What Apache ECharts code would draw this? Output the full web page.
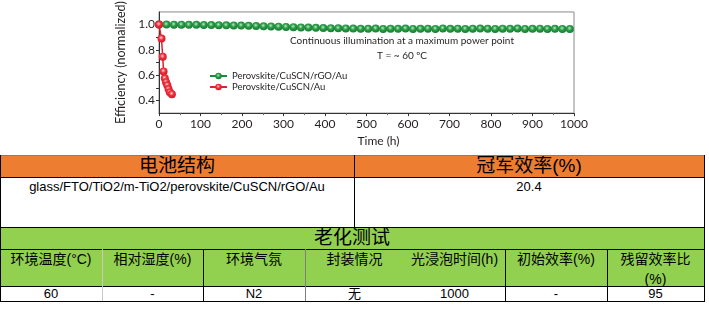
<!DOCTYPE html>
<html>
<head>
<meta charset="utf-8">
<script src="https://cdn.jsdelivr.net/npm/echarts@6/dist/echarts.min.js"></script>
<style>
  html, body { margin: 0; padding: 0; background: #fff; }
  #wrap { position: relative; width: 709px; height: 311px; overflow: hidden; }
  #main { position: absolute; left: 0; top: 0; width: 709px; height: 152px; }
  .cell { position: absolute; text-align: center; color: #000;
          font-family: "Liberation Sans", "Noto Sans CJK SC", Arial, sans-serif; white-space: pre-line; }
  .ln { position: absolute; }
</style>
</head>
<body>
<div id="wrap">
  <div id="main"></div>
</div>
<script>
// stability curve, rGO device
var greenTime = [0,18,36,54,72,90,108,126,144,162,180,198,216,234,252,270,288,306,324,342,
                 360,378,396,414,432,450,468,486,504,522,540,558,576,594,612,630,648,666,684,702,
                 720,738,756,774,792,810,828,846,864,882,900,918,936,954,972,990];
var greenEff = [1.000,1.000,0.999,0.999,0.998,0.998,0.997,0.996,0.995,0.994,
                0.993,0.992,0.991,0.989,0.987,0.986,0.984,0.982,0.980,0.978,
                0.977,0.975,0.973,0.972,0.971,0.970,0.969,0.968,0.967,0.969,
                0.966,0.968,0.967,0.969,0.966,0.967,0.968,0.966,0.970,0.967,
                0.968,0.966,0.968,0.969,0.967,0.966,0.968,0.967,0.969,0.966,
                0.967,0.968,0.966,0.967,0.966,0.965];
// device without rGO
var redTime = [0,6,9,11,14,17,20,23,26,31];
var redEff = [1.0,0.89,0.745,0.63,0.575,0.545,0.52,0.49,0.465,0.45];

var seriesNames = ['Perovskite/CuSCN/rGO/Au', 'Perovskite/CuSCN/Au'];
var yLabels = [0.4, 0.6, 0.8, 1.0];

// table text
var topHeaders = ['电池结构', '冠军效率(%)'];
var topValues = ['glass/FTO/TiO2/m-TiO2/perovskite/CuSCN/rGO/Au', '20.4'];
var agingTitle = '老化测试';
var agingHeaders = ['环境温度(°C)', '相对湿度(%)', '环境气氛', '封装情况', '光浸泡时间(h)', '初始效率(%)', '残留效率比\n(%)'];
var agingValues = ['60', '-', 'N2', '无', '1000', '-', '95'];

function pairs(xs, ys){
    var out = [];
    for (var i = 0; i < xs.length; i++) out.push([xs[i], ys[i]]);
    return out;
}

function bead(edge, mid, center){
    return {
        type: 'radial', x: 0.45, y: 0.4, r: 0.6,
        colorStops: [
            {offset: 0, color: center},
            {offset: 0.45, color: mid},
            {offset: 1, color: edge}
        ]
    };
}

var font = 'Lato, "Open Sans", sans-serif';
var myChart = echarts.init(document.getElementById('main'));
var option = {
    animation: false,
    textStyle: {fontFamily: font},
    grid: {left: 159, right: 135, top: 3, bottom: 35, show: true, borderColor: '#8a8a8a', borderWidth: 1},
    legend: {
        left: 204, top: 66, orient: 'vertical', itemGap: 1,
        itemWidth: 17, itemHeight: 8,
        textStyle: {fontFamily: font, fontSize: 9.5, color: '#231f20'},
        data: seriesNames
    },
    xAxis: {
        type: 'value', min: 0, max: 1000, interval: 100,
        name: 'Time (h)', nameLocation: 'middle', nameGap: 14,
        nameTextStyle: {fontFamily: font, fontSize: 12, color: '#231f20', padding: [0, 0, 0, 24]},
        axisLine: {lineStyle: {color: '#333', width: 1}},
        axisTick: {length: 3, lineStyle: {color: '#333'}},
        minorTick: {show: true, splitNumber: 2, length: 2, lineStyle: {color: '#666'}},
        axisLabel: {fontSize: 12, color: '#231f20', margin: 5, formatter: function(v){ return String(v); }},
        splitLine: {show: false}
    },
    yAxis: {
        type: 'value', min: 0.3, max: 1.1, interval: 0.1,
        name: 'Efficiency (normalized)', nameLocation: 'middle', nameGap: 24,
        nameTextStyle: {fontFamily: font, fontSize: 12.5, color: '#231f20'},
        axisLine: {show: true, lineStyle: {color: '#333', width: 1}},
        axisTick: {length: 3, lineStyle: {color: '#333'}},
        axisLabel: {
            fontSize: 12, color: '#231f20', margin: 4, showMinLabel: false, showMaxLabel: false,
            formatter: function(v){
                for (var i = 0; i < yLabels.length; i++) {
                    if (Math.abs(v - yLabels[i]) < 1e-6) return yLabels[i].toFixed(1);
                }
                return '';
            }
        },
        splitLine: {show: false}
    },
    graphic: [
        {type: 'text', left: 290, top: 36,
         style: {text: 'Continuous illumination at a maximum power point', font: '10px ' + font, fill: '#231f20'}},
        {type: 'text', left: 377, top: 51,
         style: {text: 'T = ~ 60 ºC', font: '10px ' + font, fill: '#231f20'}}
    ],
    series: [
        {
            name: seriesNames[0], type: 'line', data: pairs(greenTime, greenEff),
            symbol: 'circle', symbolSize: 8,
            lineStyle: {color: '#1b8a3b', width: 1.5},
            itemStyle: {color: bead('#137a30', '#2e9e4a', '#b9ecc2'), borderWidth: 0}
        },
        {
            name: seriesNames[1], type: 'line', data: pairs(redTime, redEff),
            symbol: 'circle', symbolSize: 8,
            lineStyle: {color: '#e3202b', width: 1.5},
            itemStyle: {color: bead('#d8131f', '#ec3340', '#ffd6d8'), borderWidth: 0}
        }
    ]
};
myChart.setOption(option);

// table below the chart
var wrap = document.getElementById('wrap');
function box(cls, x, y, w, h, css, text){
    var d = document.createElement('div');
    d.className = cls;
    d.style.left = x + 'px'; d.style.top = y + 'px';
    d.style.width = w + 'px'; d.style.height = h + 'px';
    for (var k in css) d.style[k] = css[k];
    if (text !== undefined) d.textContent = text;
    wrap.appendChild(d);
}
var orange = '#ED7D31', lime = '#92D050';
var cols = [0, 102, 203, 305, 404, 505, 607, 704];

// backgrounds + text
box('cell', 0, 155, 354, 22, {background: orange, fontSize: '19px', lineHeight: '22px'}, topHeaders[0]);
box('cell', 354, 155, 350, 22, {background: orange, fontSize: '19px', lineHeight: '22px'}, topHeaders[1]);
box('cell', 0, 178, 354, 49, {fontSize: '13px', lineHeight: '18px'}, topValues[0]);
box('cell', 354, 178, 350, 49, {fontSize: '13px', lineHeight: '18px'}, topValues[1]);
box('cell', 0, 227, 704, 22, {background: lime, fontSize: '19px', lineHeight: '22px'}, agingTitle);
for (var i = 0; i < agingHeaders.length; i++) {
    box('cell', cols[i], 249, cols[i + 1] - cols[i], 37,
        {background: lime, fontSize: '14px', lineHeight: '20px'}, agingHeaders[i]);
    box('cell', cols[i], 286, cols[i + 1] - cols[i], 15,
        {fontSize: '13px', lineHeight: '16px'}, agingValues[i]);
}

// grid lines
function hline(y, x0, x1, c){ box('ln', x0, y, x1 - x0, 1, {background: c}); }
function vline(x, y0, y1, c){ box('ln', x, y0, 1, y1 - y0, {background: c}); }
hline(155, 0, 705, '#7f7f7f');
hline(177, 0, 705, '#000');
hline(227, 0, 705, '#000');
hline(249, 0, 705, '#000');
hline(286, 0, 705, '#000');
hline(301, 0, 705, '#000');
vline(0, 155, 302, '#000');
vline(704, 155, 302, '#000');
vline(354, 155, 227, '#000');
vline(102, 249, 301, '#c8c8c8');
vline(203, 249, 301, '#000');
vline(305, 249, 301, '#808080');
vline(505, 249, 301, '#000');
vline(607, 249, 301, '#000');
</script>
</body>
</html>
